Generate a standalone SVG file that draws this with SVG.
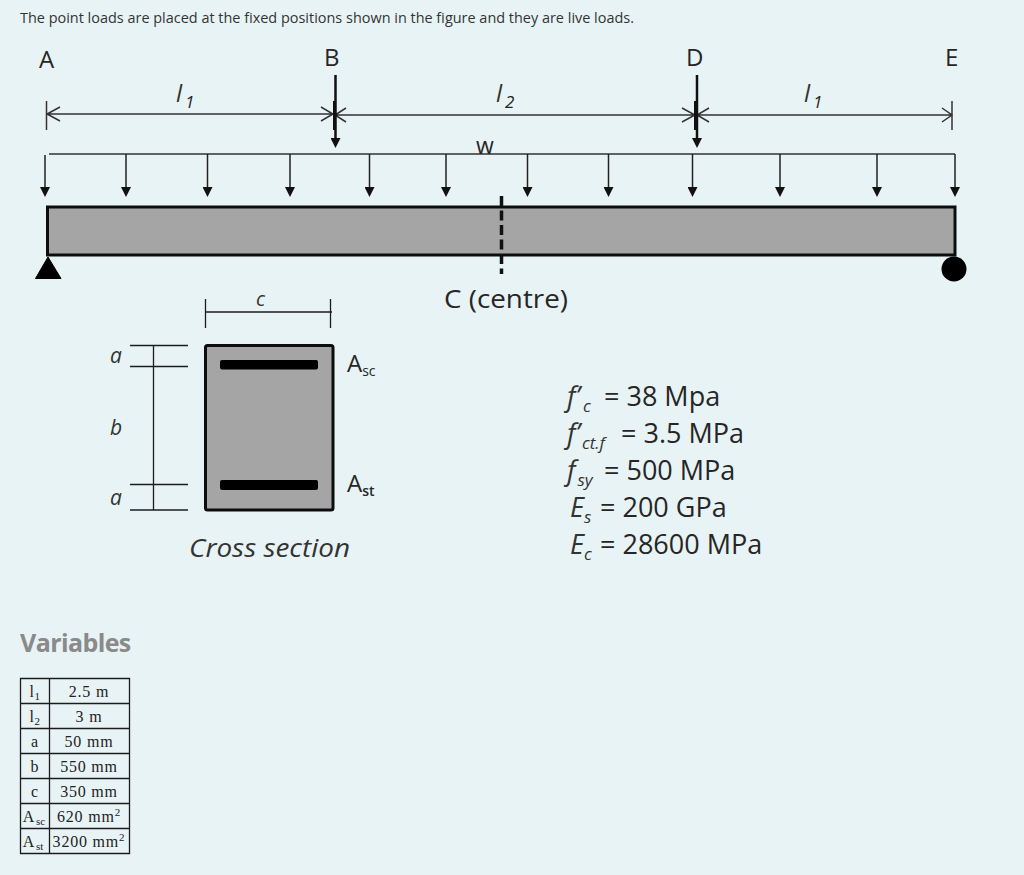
<svg xmlns="http://www.w3.org/2000/svg" width="1024" height="875" viewBox="0 0 1024 875">
<style>
text{font-family:"Open Sans","Noto Sans","Liberation Sans",sans-serif;fill:#262626}
.l{font-size:24px}
.i{font-style:italic;fill:#333}
.e{font-size:27px}
.sub{font-size:17px;font-style:italic}
.t{font-family:"Liberation Serif","DejaVu Serif",serif;font-size:16px;letter-spacing:.8px;fill:#222;text-anchor:middle}
.s{font-family:"Liberation Serif","DejaVu Serif",serif;font-size:11px;fill:#222}
.th{stroke:#1c1c1c;stroke-width:1.3;fill:none}
.o{stroke:#333;stroke-width:1.5;fill:none}
.h{stroke:#111;stroke-width:2.5;fill:none}
.u{stroke:#222;stroke-width:1.5;fill:none}
</style>
<defs>
<marker id="ah" markerUnits="userSpaceOnUse" markerWidth="10" markerHeight="10" refX="0" refY="5" orient="auto" viewBox="0 0 10 10"><path d="M0 0L10 5L0 10Z" fill="#111"/></marker>
</defs>
<rect width="1024" height="875" fill="#e8f3f5"/>
<text x="20" y="23" style="fill:#333;font-size:14px" textLength="614" lengthAdjust="spacingAndGlyphs">The point loads are placed at the fixed positions shown in the figure and they are live loads.</text>

<g id="connectors">
<path class="o" d="M46.500 101V130M47 114H333M60 107L47 114L60 121M321 107L333 114L321 121"/>
<path class="o" d="M335 115H695M346 108L335 115L346 122M682 108L695 115L682 122"/>
<path class="o" d="M697 115H952M709 108L697 115L709 122M942 108L952 115L942 122M952 101V130"/>
<path class="h" d="M335.500 75V138" marker-end="url(#ah)"/>
<path class="h" d="M697 75V138" marker-end="url(#ah)"/>
<path class="h" style="stroke-width:2" d="M334 101V130M695 101V130"/>
<path d="M49 154H955" stroke="#333" stroke-width="1.500" fill="none"/>
<path class="u" d="M45 155V187" marker-end="url(#ah)"/>
<path class="u" d="M126 154V187" marker-end="url(#ah)"/>
<path class="u" d="M207.500 154V187" marker-end="url(#ah)"/>
<path class="u" d="M290 154V187" marker-end="url(#ah)"/>
<path class="u" d="M369.500 154V187" marker-end="url(#ah)"/>
<path class="u" d="M446 154V187" marker-end="url(#ah)"/>
<path class="u" d="M527.500 154V187" marker-end="url(#ah)"/>
<path class="u" d="M608.500 154V187" marker-end="url(#ah)"/>
<path class="u" d="M692.500 154V187" marker-end="url(#ah)"/>
<path class="u" d="M780 154V187" marker-end="url(#ah)"/>
<path class="u" d="M877 154V187" marker-end="url(#ah)"/>
<path class="u" d="M955 154V187" marker-end="url(#ah)"/>
</g>

<g id="beam">
<rect x="47.500" y="207" width="907.500" height="48" fill="#a5a5a5" stroke="#0d0d0d" stroke-width="3"/>
</g>
<g id="centre-line"><path d="M501.500 196V274" stroke="#111" stroke-width="3.500" stroke-dasharray="10 4.500" fill="none"/></g>
<g id="support-A"><path d="M35.500 278.500L48 257L61 278.500Z" fill="#000" stroke="#000" stroke-linejoin="round"/></g>
<g id="support-E"><circle cx="954" cy="269" r="12.500" fill="#000"/></g>

<g id="label-A"><text class="l" x="39" y="68">A</text></g>
<g id="label-B"><text class="l" x="324" y="66">B</text></g>
<g id="label-D"><text class="l" x="686" y="66">D</text></g>
<g id="label-E"><text class="l" x="945" y="66">E</text></g>
<g id="label-l1a"><text class="i" x="176" y="102" style="font-size:24px">l</text><text class="sub" x="185" y="108">1</text></g>
<g id="label-l2"><text class="i" x="496" y="102" style="font-size:24px">l</text><text class="sub" x="505" y="108">2</text></g>
<g id="label-l1b"><text class="i" x="804" y="102" style="font-size:24px">l</text><text class="sub" x="813" y="108">1</text></g>
<g id="label-w"><text x="476" y="154" style="font-size:23px">w</text></g>
<g id="label-C"><text x="444" y="308" style="font-size:25px" textLength="124" lengthAdjust="spacingAndGlyphs">C (centre)</text></g>

<g id="cross-section">
<rect x="205.500" y="345.500" width="127.500" height="164.500" rx="2" fill="#a5a5a5" stroke="#0d0d0d" stroke-width="3"/>
<rect x="220" y="360" width="98" height="9.500" rx="2" fill="#000"/>
<rect x="220" y="480" width="98" height="10" rx="2" fill="#000"/>
</g>
<g id="dim-c">
<path class="th" d="M205.500 299V328M330.500 299V328M205.500 312H332"/>
<text class="i" x="256" y="306" style="font-size:20px">c</text>
</g>
<g id="dim-ab">
<path class="th" d="M130 345.500H188M130 366.500H188M130 484.500H188M130 510H188M153.500 345V510"/>
<text class="i" x="110" y="363" style="font-size:21px">a</text>
<text class="i" x="110" y="435" style="font-size:21px">b</text>
<text class="i" x="110" y="505" style="font-size:21px">a</text>
</g>
<g id="label-Asc"><text x="347" y="372" style="font-size:24px">A<tspan dy="4" style="font-size:14px">sc</tspan></text></g>
<g id="label-Ast"><text x="347" y="492" style="font-size:24px">A<tspan dy="4" style="font-size:14px;font-weight:600">st</tspan></text></g>
<g id="label-cross"><text class="i" x="189" y="557" style="font-size:25px" textLength="161" lengthAdjust="spacingAndGlyphs">Cross section</text></g>

<g id="properties">
<text class="i e" x="567" y="406">f’<tspan class="sub" dx="3" dy="6">c</tspan></text><text class="e" x="604" y="406">= 38 Mpa</text>
<text class="i e" x="567" y="443">f’<tspan class="sub" dx="2" dy="6">ct.f</tspan></text><text class="e" x="621" y="443">= 3.5 MPa</text>
<text class="i e" x="567" y="480">f<tspan class="sub" dx="2" dy="6">sy</tspan></text><text class="e" x="604" y="480">= 500 MPa</text>
<text class="i e" x="570" y="517">E<tspan class="sub" dy="6">s</tspan></text><text class="e" x="600" y="517">= 200 GPa</text>
<text class="i e" x="570" y="554">E<tspan class="sub" dy="6">c</tspan></text><text class="e" x="600" y="554">= 28600 MPa</text>
</g>

<g id="variables-title"><text x="20" y="652" style="font-size:25px;font-weight:700;fill:#8a8a8a;letter-spacing:-.6px">Variables</text></g>
<g id="variables-table">
<path class="th" d="M20.500 678.500H129.500V853.500H20.500ZM49.500 678.500V853.500M20.500 703.500H129.500M20.500 728.500H129.500M20.500 753.500H129.500M20.500 778.500H129.500M20.500 803.500H129.500M20.500 828.500H129.500"/>
<text class="t" x="32" y="697">l</text><text class="s" x="34.500" y="700">1</text>
<text class="t" x="89" y="697">2.5 m</text>
<text class="t" x="32" y="722">l</text><text class="s" x="34.500" y="725">2</text>
<text class="t" x="89" y="722">3 m</text>
<text class="t" x="35" y="747">a</text>
<text class="t" x="89" y="747">50 mm</text>
<text class="t" x="35" y="772">b</text>
<text class="t" x="89" y="772">550 mm</text>
<text class="t" x="35" y="797">c</text>
<text class="t" x="89" y="797">350 mm</text>
<text class="t" x="29" y="822">A</text><text class="s" x="36" y="825">sc</text>
<text class="t" x="89" y="822">620 mm<tspan dy="-6" style="font-size:11px">2</tspan></text>
<text class="t" x="29" y="847">A</text><text class="s" x="36" y="850">st</text>
<text class="t" x="89" y="847">3200 mm<tspan dy="-6" style="font-size:11px">2</tspan></text>
</g>
</svg>
